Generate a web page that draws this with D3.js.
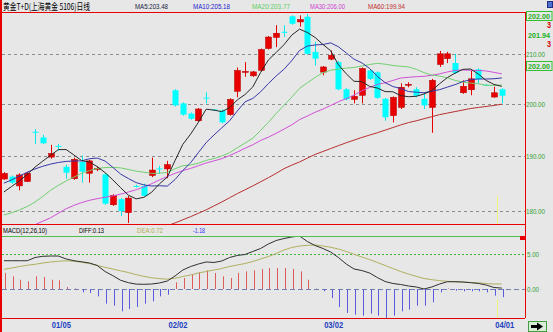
<!DOCTYPE html>
<html><head><meta charset="utf-8">
<script src="https://cdn.jsdelivr.net/npm/d3@7"></script>
<style>body{margin:0;background:#e7e7e7;overflow:hidden}svg{display:block}</style>
</head><body><svg id="c" width="553" height="332"></svg>
<script>
const dates=["12/23","12/24","12/25","12/26","12/29","12/30","12/31","01/05","01/06","01/07","01/08","01/09","01/12","01/13","01/14","01/15","01/16","01/19","01/20","01/21","01/22","01/23","02/02","02/03","02/04","02/05","02/06","02/09","02/10","02/11","02/12","02/13","02/16","02/17","02/18","02/19","02/20","02/23","02/24","02/25","02/26","02/27","03/02","03/03","03/04","03/05","03/06","03/09","03/10","03/11","03/12","03/13","03/16","03/17","03/18","03/19","03/20","03/23","03/24","03/25","03/26","03/27","03/30","03/31","04/01"];
const open=[185.75,186.2,184.5,185.3,194.6,193.5,189.8,191.9,188.0,185.8,188.9,186.8,187.6,186.6,181.1,182.1,179.7,184.5,184.5,186.4,187.7,187.6,202.7,200.1,198.1,196.7,201.25,198.9,198.7,197.9,202.5,206.4,205.6,206.7,211.2,213.5,214.7,218.0,216.8,217.9,210.5,206.35,209.0,208.4,202.9,200.9,201.7,206.7,206.3,201.0,197.7,199.3,203.8,202.9,201.0,199.3,207.9,209.1,208.2,202.2,202.8,206.9,203.8,201.35,202.9];
const high=[187.0,186.4,186.8,187.0,195.1,194.0,192.1,192.3,188.4,189.7,190.1,189.3,188.1,186.8,183.0,182.3,182.7,184.7,184.9,189.7,188.2,189.1,202.9,200.3,198.3,199.2,202.3,199.0,198.9,201.1,207.3,208.4,206.6,211.2,213.8,216.1,216.1,218.2,218.2,218.5,212.6,207.6,210.8,208.6,203.1,202.7,207.3,206.9,206.5,201.2,201.5,204.1,204.3,203.3,202.0,205.0,210.7,210.5,210.1,204.7,206.7,207.1,203.9,203.4,203.1];
const low=[185.6,184.9,183.7,185.2,192.3,192.3,189.5,191.0,185.8,185.6,185.1,185.1,187.2,181.1,180.9,179.1,177.9,184.2,182.6,186.1,186.7,185.9,199.5,197.7,196.9,196.5,200.1,198.7,196.2,197.7,201.3,205.4,205.4,206.5,211.0,211.5,213.6,216.2,215.8,209.9,207.7,205.7,208.8,202.7,200.7,200.1,200.1,204.8,201.0,196.7,196.4,199.0,203.3,201.3,199.0,194.4,207.4,208.2,206.0,202.0,201.7,204.05,203.6,201.2,200.1];
const close=[186.8,185.1,186.5,186.8,194.5,192.4,190.5,191.8,186.9,189.4,187.1,189.1,187.7,181.3,182.8,180.0,182.3,184.4,182.7,187.4,187.6,188.4,199.7,197.9,197.1,199.0,201.1,198.8,196.4,200.9,206.7,206.5,206.4,211.0,213.6,214.4,214.6,216.4,217.3,210.1,209.1,207.4,209.8,202.9,200.9,201.5,207.1,205.0,201.2,197.4,201.3,203.3,203.9,201.6,199.7,204.7,210.1,210.1,206.2,203.5,205.0,204.9,203.7,202.2,201.6];
const ma5=[183.4,184.4,185.4,186.6,187.94,189.06,190.14,191.2,191.22,190.2,189.14,188.86,188.04,186.92,185.6,184.18,182.82,182.16,182.44,183.36,184.88,186.1,189.16,192.2,194.14,196.42,198.96,198.78,198.48,199.24,200.78,201.86,203.38,206.3,208.84,210.38,212.0,214.0,215.26,214.56,213.5,212.06,210.74,207.86,206.02,204.5,204.44,203.48,203.14,202.44,202.4,201.64,201.42,201.5,201.96,202.64,204.0,205.24,206.16,206.92,206.98,205.94,204.66,203.86,203.48];
const ma10=[185.0,185.6,186.3,187.0,187.6,188.1,188.5,188.8,189.0,189.07,189.1,189.5,189.62,189.07,187.9,186.66,185.84,185.1,184.68,184.48,184.53,184.46,185.66,187.32,188.75,190.65,192.53,193.97,195.34,196.69,198.6,200.41,201.08,202.39,204.04,205.58,206.93,208.69,210.78,211.7,211.94,212.03,212.37,211.56,210.29,209.0,208.25,207.11,205.5,204.23,203.45,203.04,202.45,202.32,202.2,202.52,202.82,203.33,203.83,204.44,204.81,204.97,204.95,205.01,205.18];
const ma20=[179.3,179.7,180.2,180.8,181.6,182.6,183.7,184.6,185.4,186.1,186.8,187.3,187.7,187.85,187.9,187.8,187.5,187.2,187.0,186.78,186.82,186.98,187.64,188.2,188.33,188.66,189.19,189.54,190.01,190.59,191.57,192.44,193.37,194.86,196.4,198.12,199.73,201.33,203.06,204.2,205.27,206.22,206.73,206.98,207.17,207.29,207.59,207.9,208.14,207.97,207.7,207.54,207.41,206.94,206.25,205.76,205.54,205.22,204.67,204.34,204.13,204.0,203.7,203.67,203.77];
const ma30=[176.0,176.4,176.8,177.2,177.6,178.2,178.8,179.6,180.4,181.0,181.5,181.9,182.2,182.45,182.7,183.0,183.4,183.8,184.3,184.9,185.6,186.2,186.8,187.3,187.7,188.2,188.7,189.1,189.5,190.08,190.74,191.46,192.12,192.93,193.56,194.3,195.1,195.92,196.93,197.62,198.36,198.97,199.7,200.42,201.03,201.74,202.57,203.26,203.87,204.21,204.66,205.16,205.3,205.42,205.51,205.7,206.0,206.38,206.7,206.79,206.73,206.68,206.59,206.3,206.0];
const ma60=[null,null,null,null,null,null,null,null,null,null,null,null,null,null,null,null,null,null,null,null,177.0,177.4,177.9,178.45,179.0,179.6,180.2,180.9,181.6,182.35,183.1,183.8,184.5,185.25,186.0,186.8,187.65,188.3,188.9,189.6,190.3,190.85,191.4,191.95,192.5,193.0,193.5,193.95,194.4,194.9,195.4,195.9,196.35,196.7,197.1,197.5,197.9,198.2,198.5,198.8,199.1,199.3,199.5,199.7,199.94];
const diff=[4.04,4.04,4.04,4.04,4.5,4.67,4.71,4.71,4.29,4.04,3.89,3.71,3.36,2.5,1.9,1.25,0.9,0.7,0.67,0.71,0.86,1.14,1.86,2.71,3.21,3.57,3.86,3.79,4.0,4.5,4.79,4.93,5.36,5.79,6.43,6.93,7.21,7.43,7.57,6.79,6.21,5.79,5.29,4.5,3.57,2.86,2.64,2.29,1.64,1.07,0.79,0.64,0.43,0.29,0.0,0.29,0.71,1.04,1.04,1.0,0.9,0.79,0.57,0.21,0.13];
const dea=[2.81,3.0,3.21,3.39,3.53,3.71,3.86,3.96,4.03,3.96,3.81,3.64,3.36,3.1,2.85,2.6,2.35,2.05,1.8,1.6,1.48,1.4,1.53,1.79,2.0,2.29,2.5,2.71,2.93,3.21,3.43,3.64,3.93,4.29,4.64,5.07,5.57,5.93,6.14,6.24,6.29,6.14,5.96,5.71,5.36,4.96,4.57,4.21,3.79,3.36,2.93,2.5,2.14,1.81,1.5,1.33,1.19,1.1,1.04,1.0,0.93,0.89,0.79,0.71,0.72];
const macd=[2.29,1.81,1.33,1.1,1.81,1.71,1.33,1.24,0.29,0.08,-0.48,-0.57,-1.05,-2.1,-2.38,-3.19,-2.86,-2.57,-2.1,-1.76,-1.05,-0.81,0.95,1.57,2.05,2.38,2.67,2.29,1.81,1.57,2.29,2.52,2.67,2.86,3.0,3.0,3.0,2.86,2.52,1.33,0.05,-0.33,-1.29,-2.57,-3.43,-3.67,-3.81,-3.52,-3.81,-4.29,-3.81,-3.19,-2.95,-2.38,-2.38,-1.9,-0.48,0.08,-0.24,-0.33,-0.33,-0.33,-0.48,-0.95,-1.18];
const priceTicks=[210,200,190,180];
const macdTicks=[5,0];
const dateTicks=["01/05","02/02","03/02","04/01"];
const maNames=["MA5:203.48","MA10:205.18","MA20:203.77","MA30:206.00","MA60:199.94"];
const macdNames=["MACD(12,26,10)","DIFF:0.13","DEA:0.72","-1.18"];
const title="黄金T+D(上海黄金 5106)日线";

const svg=d3.select("#c");
const FONT="'Liberation Sans', Arial, sans-serif";
const RED="#e80000";
svg.append("rect").attr("width",553).attr("height",332).attr("fill","#e7e7e7");

const x=d3.scalePoint().domain(dates).range([3.9,501.8]);
const y=d3.scaleLog().domain([180,210]).range([211,54.3]);
const ym=d3.scaleLinear().domain([0,5]).range([289,254]);

const defs=svg.append("defs");
defs.append("clipPath").attr("id","cm").append("rect").attr("x",2).attr("y",13).attr("width",523).attr("height",211);
defs.append("clipPath").attr("id","cd").append("rect").attr("x",2).attr("y",237).attr("width",523).attr("height",81);

// grid lines
const gm=svg.append("g");
gm.selectAll("line.g").data(priceTicks).join("line")
  .attr("x1",2).attr("x2",525).attr("y1",d=>Math.round(y(d))+0.5).attr("y2",d=>Math.round(y(d))+0.5)
  .attr("stroke","#8c8c8c").attr("stroke-dasharray","3,3");
svg.append("line").attr("x1",2).attr("x2",525).attr("y1",Math.round(ym(5))+0.5).attr("y2",Math.round(ym(5))+0.5)
  .attr("stroke","#40b840").attr("stroke-dasharray","2,2");
svg.append("line").attr("x1",2).attr("x2",525).attr("y1",Math.round(ym(0))+0.5).attr("y2",Math.round(ym(0))+0.5)
  .attr("stroke","#7080b0").attr("stroke-dasharray","5,3");

// candles
const cg=svg.append("g").attr("clip-path","url(#cm)");
const idx=d3.range(dates.length);
const up=i=>close[i]>=open[i];
cg.selectAll("line.w").data(idx).join("line")
  .attr("x1",i=>Math.round(x(dates[i]))+0.5).attr("x2",i=>Math.round(x(dates[i]))+0.5)
  .attr("y1",i=>y(high[i])).attr("y2",i=>y(low[i]))
  .attr("stroke",i=>up(i)?RED:"#00e8e8").attr("stroke-width",1);
cg.selectAll("rect.b").data(idx).join("rect")
  .attr("x",i=>Math.round(x(dates[i]))-2.5).attr("width",6)
  .attr("y",i=>Math.min(y(open[i]),y(close[i])))
  .attr("height",i=>Math.max(1,Math.abs(y(open[i])-y(close[i]))))
  .attr("fill",i=>up(i)?RED:"#00ffff")
  .attr("stroke",i=>up(i)?"#b00000":"none").attr("stroke-width",0.5);

// MA lines
const mkLine=(sc)=>d3.line().defined(d=>d!=null).x((d,i)=>x(dates[i])).y(d=>sc(d));
const maSeries=[[ma60,"#b83030"],[ma30,"#d050d8"],[ma20,"#70d070"],[ma10,"#3838a8"],[ma5,"#282828"]];
maSeries.forEach(([s,c])=>{
  cg.append("path").datum(s).attr("d",mkLine(y)).attr("fill","none").attr("stroke",c).attr("stroke-width",1);
});

// MACD
const dg=svg.append("g").attr("clip-path","url(#cd)");
dg.selectAll("line.m").data(idx).join("line")
  .attr("x1",i=>Math.round(x(dates[i]))+1.5).attr("x2",i=>Math.round(x(dates[i]))+1.5)
  .attr("y1",ym(0)).attr("y2",i=>ym(macd[i]))
  .attr("stroke",i=>macd[i]>=0?"#e05a5a":"#5a5ae0").attr("stroke-width",1);
dg.append("path").datum(dea).attr("d",mkLine(ym)).attr("fill","none").attr("stroke","#b0b060").attr("stroke-width",1);
dg.append("path").datum(diff).attr("d",mkLine(ym)).attr("fill","none").attr("stroke","#303030").attr("stroke-width",1);

// yellow cursor
svg.append("line").attr("x1",497.5).attr("x2",497.5).attr("y1",196).attr("y2",224).attr("stroke","#f0f080");
svg.append("line").attr("x1",497.5).attr("x2",497.5).attr("y1",299).attr("y2",318).attr("stroke","#f0f080");

// borders
svg.append("rect").attr("x",0).attr("y",0).attr("width",2).attr("height",332).attr("fill",RED);
svg.append("line").attr("x1",0).attr("x2",547).attr("y1",12.5).attr("y2",12.5).attr("stroke",RED);
svg.append("line").attr("x1",525.5).attr("x2",525.5).attr("y1",12).attr("y2",318).attr("stroke",RED);
svg.append("line").attr("x1",2).attr("x2",525).attr("y1",224.5).attr("y2",224.5).attr("stroke",RED);
svg.append("line").attr("x1",2).attr("x2",525).attr("y1",318.5).attr("y2",318.5).attr("stroke",RED);
svg.append("line").attr("x1",2).attr("x2",520).attr("y1",236.5).attr("y2",236.5).attr("stroke","#50c050");
svg.append("rect").attr("x",520).attr("y",236).attr("width",5).attr("height",4).attr("fill",RED);

// axes
const ax=svg.append("g").attr("transform","translate(525,0)")
  .call(d3.axisRight(y).tickValues(priceTicks).tickFormat(d3.format(".2f")).tickSize(0).tickPadding(1));
ax.select(".domain").remove();
ax.selectAll("text").attr("font-family",FONT).attr("font-size",8).attr("fill","#30a030")
  .attr("textLength",19).attr("lengthAdjust","spacingAndGlyphs");
const ax2=svg.append("g").attr("transform","translate(525,0)")
  .call(d3.axisRight(ym).tickValues(macdTicks).tickFormat(d3.format(".2f")).tickSize(0).tickPadding(2));
ax2.select(".domain").remove();
ax2.selectAll("text").attr("font-family",FONT).attr("font-size",8).attr("fill","#30a030")
  .attr("textLength",12).attr("lengthAdjust","spacingAndGlyphs");
const ax3=svg.append("g").attr("transform","translate(2.5,322)")
  .call(d3.axisBottom(x).tickValues(dateTicks).tickSize(0).tickPadding(0));
ax3.select(".domain").remove();
ax3.selectAll("text").attr("font-family",FONT).attr("font-size",8.5).attr("font-weight","bold").attr("fill","#2040c0")
  .attr("textLength",19).attr("lengthAdjust","spacingAndGlyphs");

// header texts
function txt(t,x0,yb,w,c,sz,fam,bold){
  return svg.append("text").text(t).attr("x",x0).attr("y",yb).attr("font-family",fam||FONT).attr("font-size",sz||7.5)
   .attr("fill",c).attr("font-weight",bold?"bold":"normal").attr("textLength",w).attr("lengthAdjust","spacingAndGlyphs");
}
txt(title,3,9.5,87,"#000",9,"'Noto Sans CJK SC', sans-serif");
const maX=[135,193,252,310,368],maW=[33,37,38,35,37],maC=["#202040","#2020d0","#60d060","#d040d0","#c03030"];
maNames.forEach((t,i)=>txt(t,maX[i],9,maW[i],maC[i]));
const mdX=[3,79,137,193],mdW=[44,25,26,12],mdC=["#000","#000","#b0b050","#3030ff"];
macdNames.forEach((t,i)=>txt(t,mdX[i],233,mdW[i],mdC[i]));

// right-side value boxes
svg.append("rect").attr("x",526.5).attr("y",11.5).attr("width",25.5).attr("height",9).attr("fill","#e7e7e7").attr("stroke","#30c030");
txt("202.00",528,19,22,"#20b020",8,FONT,true);
txt("3",547,28,4,"#d00000",8.5,FONT,true);
txt("201.94",528,38,22,"#20b020",8,FONT,true);
txt("3",547,47,4,"#d00000",8.5,FONT,true);
svg.append("rect").attr("x",526.5).attr("y",61.5).attr("width",25.5).attr("height",9).attr("fill","#e7e7e7").attr("stroke","#30c030");
txt("202.00",528,69,22,"#20b020",8,FONT,true);

// icons
svg.append("rect").attr("x",547.5).attr("y",1.5).attr("width",5).attr("height",6).attr("fill","#5070d0").attr("stroke","#203080");
svg.append("rect").attr("x",528.5).attr("y",321.5).attr("width",18).attr("height",10).attr("fill","#d8ecd8").attr("stroke","#40a040");
svg.append("path").attr("d","M531,325 h6 v-2.5 l6,4 l-6,4 v-2.5 h-6 z").attr("fill","#000");
</script></body></html>
